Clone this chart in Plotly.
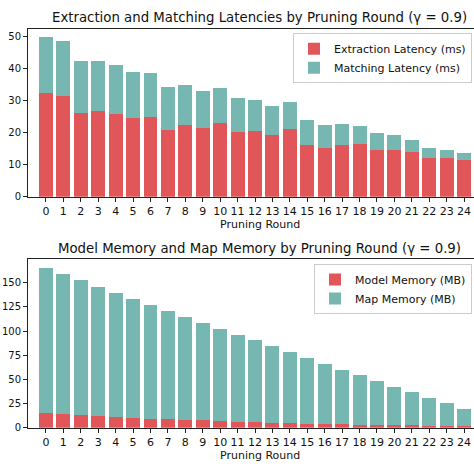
import plotly.graph_objects as go
from plotly.subplots import make_subplots

rounds = list(range(25))
extraction_ms = [32.2, 31.3, 26.0, 26.6, 25.8, 24.6, 24.9, 20.8, 22.3, 21.4, 22.8, 20.2, 20.3,
                 19.2, 21.0, 16.1, 15.1, 16.1, 16.3, 14.6, 14.6, 13.9, 12.0, 11.9, 11.4]
matching_ms = [17.6, 17.2, 16.3, 15.6, 15.1, 14.3, 13.7, 13.4, 12.5, 11.6, 11.1, 10.4, 9.7,
               9.1, 8.4, 7.8, 7.1, 6.4, 5.8, 5.2, 4.6, 3.8, 3.3, 2.6, 2.1]
model_mb = [14.9, 13.8, 12.8, 12.1, 11.1, 10.3, 9.3, 9.0, 8.0, 7.6, 6.6, 6.2, 5.6,
            4.9, 4.5, 4.1, 3.8, 3.5, 3.2, 3.0, 2.7, 2.4, 2.1, 1.8, 1.5]
map_mb = [150.6, 145.2, 139.6, 133.8, 128.6, 123.1, 117.6, 112.0, 106.5, 101.0, 95.8, 90.0, 84.8,
          79.3, 73.5, 67.7, 62.1, 56.5, 51.0, 45.3, 39.7, 34.2, 28.9, 23.4, 18.2]

RED = "#e15759"
TEAL = "#76b7b2"
FONT = "DejaVu Sans"
H = 474.0
L = 28

fig = make_subplots(rows=2, cols=1)

fig.add_trace(go.Bar(x=rounds, y=extraction_ms, name="Extraction Latency (ms)", marker_color=RED,
                     marker_line_width=0, width=0.8, legend="legend"), row=1, col=1)
fig.add_trace(go.Bar(x=rounds, y=matching_ms, name="Matching Latency (ms)", marker_color=TEAL,
                     marker_line_width=0, width=0.8, legend="legend"), row=1, col=1)
fig.add_trace(go.Bar(x=rounds, y=model_mb, name="Model Memory (MB)", marker_color=RED,
                     marker_line_width=0, width=0.8, legend="legend2"), row=2, col=1)
fig.add_trace(go.Bar(x=rounds, y=map_mb, name="Map Memory (MB)", marker_color=TEAL,
                     marker_line_width=0, width=0.8, legend="legend2"), row=2, col=1)

axis_common = dict(showline=True, linecolor="#222", linewidth=1, mirror=True, ticks="outside",
                   ticklen=4, tickcolor="#222", showgrid=False, zeroline=False, automargin=False)

xrange = [-1.03, 24.57]
fig.update_xaxes(range=xrange, tickmode="array", tickvals=rounds, ticktext=[str(r) for r in rounds],
                 tickangle=0, domain=[0, 1], tickfont=dict(family=FONT, size=11, color="#111"),
                 **axis_common)
fig.update_yaxes(tickfont=dict(family=FONT, size=10, color="#111"), **axis_common)
fig.update_yaxes(range=[0, 52.3], tickvals=[0, 10, 20, 30, 40, 50],
                 domain=[1 - 196.7 / H, 1 - 28.7 / H], row=1, col=1)
fig.update_yaxes(range=[0, 174.2], tickvals=[0, 25, 50, 75, 100, 125, 150],
                 domain=[1 - 427.7 / H, 1 - 259.3 / H], row=2, col=1)

def px_x(p):
    return (p - L) / (474 - L)

def px_y(p):
    return 1 - p / H

annots = [
    dict(text="Extraction and Matching Latencies by Pruning Round (γ = 0.9)", x=px_x(259), y=px_y(17.3),
         size=13.3),
    dict(text="Pruning Round", x=px_x(259.5), y=px_y(224), size=11),
    dict(text="Model Memory and Map Memory by Pruning Round (γ = 0.9)", x=px_x(259), y=px_y(248.3),
         size=13.3),
    dict(text="Pruning Round", x=px_x(259.5), y=px_y(455), size=11),
]
for a in annots:
    fig.add_annotation(text=a["text"], x=a["x"], y=a["y"], xref="paper", yref="paper",
                       xanchor="center", yanchor="middle", showarrow=False,
                       font=dict(family=FONT, size=a["size"], color="#111"))

legend_common = dict(bgcolor="rgba(255,255,255,0.85)", bordercolor="#cccccc", borderwidth=1,
                     font=dict(family=FONT, size=11, color="#111"), xanchor="right", yanchor="top",
                     tracegroupgap=0, traceorder="normal", itemwidth=30)

fig.update_layout(
    width=474, height=474,
    margin=dict(l=L, r=0, t=0, b=0),
    barmode="stack", bargap=0.2,
    plot_bgcolor="white", paper_bgcolor="white",
    showlegend=True,
    legend=dict(x=px_x(472), y=px_y(33.3), **legend_common),
    legend2=dict(x=px_x(472), y=px_y(264), **legend_common),
)

fig.write_html("out.html")
